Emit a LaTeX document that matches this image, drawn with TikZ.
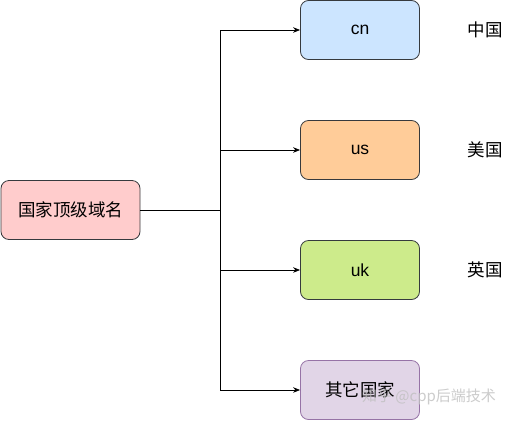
\documentclass[tikz,border=0pt]{standalone}
\usepackage{fontspec}
\setmainfont{Liberation Sans}
\newfontfamily\cjk{Noto Sans CJK SC}
\usetikzlibrary{arrows.meta}
\definecolor{cnfill}{HTML}{CCE5FF}
\definecolor{usfill}{HTML}{FFCC99}
\definecolor{ukfill}{HTML}{CDEB8B}
\definecolor{otfill}{HTML}{E1D5E7}
\definecolor{otdraw}{HTML}{9673A6}
\definecolor{rootfill}{HTML}{FFCCCC}
\definecolor{dk}{HTML}{36393D}
\begin{document}
\begin{tikzpicture}[x=1pt,y=-1pt,
  box/.style={draw=dk, line width=0.8pt, rounded corners=8pt, minimum width=119pt, minimum height=59pt, inner sep=0pt, font=\fontsize{17.5}{20}\selectfont},
  lbl/.style={font=\cjk\fontsize{17.5}{20}\selectfont},
  conn/.style={line width=0.8pt, -{Stealth[length=7pt,width=5.5pt]}}]
\useasboundingbox (0,0) rectangle (511,421);
\node[box, fill=rootfill, minimum width=139pt] (root) at (70.5,210) {\cjk 国家顶级域名};
\node[box, fill=cnfill] (cn) at (360,30) {cn};
\node[box, fill=usfill] (us) at (360,150) {us};
\node[box, fill=ukfill] (uk) at (360,270) {uk};
\node[box, fill=otfill, draw=otdraw] (ot) at (360,390) {\cjk 其它国家};
\node[lbl] (l1) at (485,30) {中国};
\node[lbl] (l2) at (485,150) {美国};
\node[lbl] (l3) at (485,270) {英国};
\coordinate (j) at (220,210);
\draw[line width=0.8pt] (root.east) -- (j);
\draw[line width=0.8pt] (220,30) -- (220,390);
\draw[conn] (cn.west -| j) -- (cn.west);
\draw[conn] (us.west -| j) -- (us.west);
\draw[conn] (uk.west -| j) -- (uk.west);
\draw[conn] (ot.west -| j) -- (ot.west);
\node[font=\cjk\fontsize{15}{17}\selectfont, text=black!25, opacity=0.8] (wm) at (429,397) {知乎 @cpp后端技术};
\end{tikzpicture}
\end{document}
